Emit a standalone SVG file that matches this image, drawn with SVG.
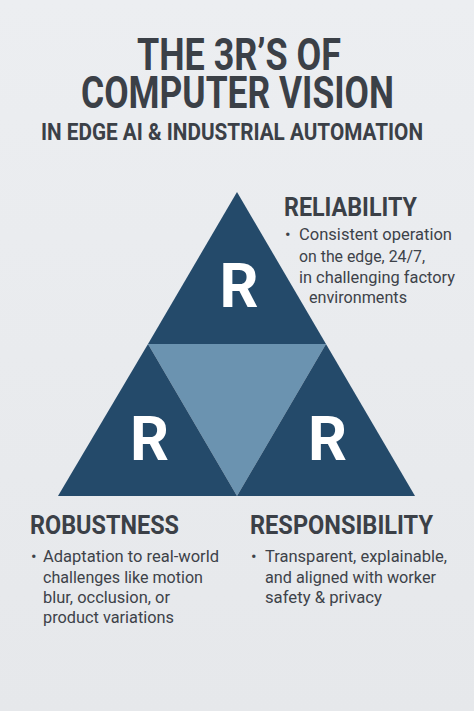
<svg xmlns="http://www.w3.org/2000/svg" width="474" height="711" viewBox="0 0 474 711">
<defs>
<linearGradient id="bg" x1="0" y1="0" x2="0" y2="1">
<stop offset="0" stop-color="#eceef1"/>
<stop offset="1" stop-color="#e6e8eb"/>
</linearGradient>
</defs>
<style>
.title{font-family:Roboto,"Liberation Sans",sans-serif;font-weight:700;fill:#3b4047}
.head{font-family:Roboto,"Liberation Sans",sans-serif;font-weight:700;font-size:26px;fill:#3b4047}
.body{font-family:Roboto,"Liberation Sans",sans-serif;font-weight:400;font-size:16.5px;fill:#3d4249}
.dark{fill:#244a6a}
.light{fill:#6b93b0}
.R{font-family:Roboto,"Liberation Sans",sans-serif;font-weight:700;font-size:61px;fill:#ffffff;text-anchor:middle}
</style>
<rect width="474" height="711" fill="url(#bg)"/>
<g id="title">
<text class="title" x="239" y="70" font-size="45" text-anchor="middle" textLength="204" lengthAdjust="spacingAndGlyphs">THE 3R’S OF</text>
<text class="title" x="237.5" y="108" font-size="45" text-anchor="middle" textLength="313" lengthAdjust="spacingAndGlyphs">COMPUTER VISION</text>
<text class="title" x="232" y="140" font-size="23" text-anchor="middle" textLength="382" lengthAdjust="spacingAndGlyphs">IN EDGE AI &amp; INDUSTRIAL AUTOMATION</text>
</g>
<g id="pyramid">
<polygon class="light" points="148,344 326,344 237,496"/>
<g id="node-reliability-tri">
<polygon class="dark" points="237,192 326,344 148,344"/>
<text class="R" x="239" y="307">R</text>
</g>
<g id="node-robustness-tri">
<polygon class="dark" points="148,344 237,496 58,496"/>
<text class="R" x="149.5" y="460">R</text>
</g>
<g id="node-responsibility-tri">
<polygon class="dark" points="326,344 415,496 237,496"/>
<text class="R" x="327.5" y="460">R</text>
</g>
</g>
<g id="connectors"></g>
<g id="node-reliability">
<text class="head" x="284" y="216" textLength="133" lengthAdjust="spacingAndGlyphs">RELIABILITY</text>
<text class="body" x="285" y="240">•</text>
<text class="body" x="299" y="240" textLength="153" lengthAdjust="spacingAndGlyphs">Consistent operation</text>
<text class="body" x="299" y="262" textLength="126" lengthAdjust="spacingAndGlyphs">on the edge, 24/7,</text>
<text class="body" x="299" y="283" textLength="156" lengthAdjust="spacingAndGlyphs">in challenging factory</text>
<text class="body" x="309" y="303" textLength="98" lengthAdjust="spacingAndGlyphs">environments</text>
</g>
<g id="node-robustness">
<text class="head" x="30" y="534" textLength="149" lengthAdjust="spacingAndGlyphs">ROBUSTNESS</text>
<text class="body" x="31" y="562">•</text>
<text class="body" x="43" y="562" textLength="176" lengthAdjust="spacingAndGlyphs">Adaptation to real-world</text>
<text class="body" x="43" y="583" textLength="160" lengthAdjust="spacingAndGlyphs">challenges like motion</text>
<text class="body" x="43" y="603" textLength="127" lengthAdjust="spacingAndGlyphs">blur, occlusion, or</text>
<text class="body" x="43" y="623" textLength="131" lengthAdjust="spacingAndGlyphs">product variations</text>
</g>
<g id="node-responsibility">
<text class="head" x="250" y="534" textLength="183" lengthAdjust="spacingAndGlyphs">RESPONSIBILITY</text>
<text class="body" x="251" y="562">•</text>
<text class="body" x="265" y="562" textLength="182" lengthAdjust="spacingAndGlyphs">Transparent, explainable,</text>
<text class="body" x="265" y="583" textLength="171" lengthAdjust="spacingAndGlyphs">and aligned with worker</text>
<text class="body" x="265" y="603" textLength="117" lengthAdjust="spacingAndGlyphs">safety &amp; privacy</text>
</g>
</svg>
